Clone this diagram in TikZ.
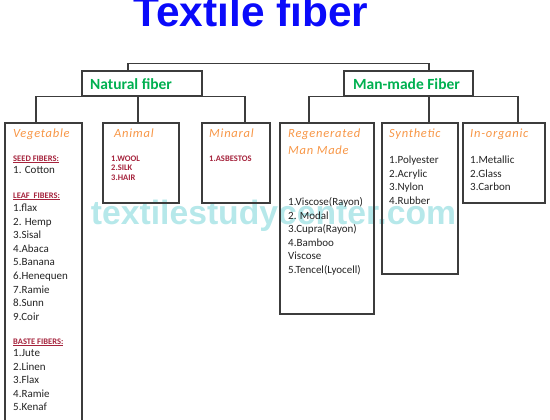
\documentclass[tikz,border=0pt]{standalone}
\usepackage{fontspec}
\setmainfont{Carlito}
\newfontfamily\arialfont{Liberation Sans}
\newfontfamily\catfont[LetterSpace=6]{Carlito}
\definecolor{titleblue}{RGB}{10,10,250}
\definecolor{natgreen}{RGB}{0,176,80}
\definecolor{catorange}{RGB}{247,150,70}
\definecolor{headred}{RGB}{165,35,60}
\definecolor{itemgray}{RGB}{35,35,35}
\definecolor{wmcyan}{RGB}{182,232,234}
\definecolor{linegray}{RGB}{60,60,60}
\tikzset{
  box/.style={draw=linegray, line width=1.4pt, inner sep=0pt},
  conn/.style={draw=linegray, line width=1.2pt},
  txt/.style={inner sep=0pt, anchor=base west},
  item/.style={txt, text=itemgray, font=\fontsize{11}{13}\selectfont},
  head/.style={txt, text=headred, font=\fontsize{8.5}{10}\selectfont\bfseries},
  cat/.style={txt, text=catorange, font=\fontsize{12.5}{15}\selectfont\catfont\itshape},
  grp/.style={txt, text=natgreen, font=\fontsize{15.5}{18}\selectfont\bfseries},
}
\begin{document}
\begin{tikzpicture}[x=1pt,y=-1pt]
\useasboundingbox (0,0) rectangle (550,420);
% watermark
\node[inner sep=0pt, anchor=base, text=wmcyan, font=\fontsize{33.7}{40}\selectfont\arialfont\bfseries] (wm) at (273.5,225) {textilestudycenter.com};
% title
\node[inner sep=0pt, anchor=base, text=titleblue, font=\fontsize{42.4}{50}\selectfont\arialfont\bfseries] (title) at (251,27) {Textile fiber};
% group boxes
\node[box, minimum width=120pt, minimum height=25pt] (nat) at (142,83.5) {};
\node[box, minimum width=129pt, minimum height=25pt] (mm) at (408.5,83.5) {};
\node[grp] (natt) at (90,90) {Natural fiber};
\node[grp] (mmt) at (353,90) {Man-made Fiber};
% category boxes
\node[box, minimum width=77pt, minimum height=304pt] (veg) at (43.5,275) {};
\node[box, minimum width=76pt, minimum height=80pt] (ani) at (141,163) {};
\node[box, minimum width=68pt, minimum height=80pt] (min) at (236,163) {};
\node[box, minimum width=94pt, minimum height=191pt] (reg) at (327,218.5) {};
\node[box, minimum width=76pt, minimum height=151pt] (syn) at (420,198.5) {};
\node[box, minimum width=82pt, minimum height=80pt] (ino) at (504,163) {};
% connectors
\coordinate (t1) at (128,63.5);
\coordinate (t2) at (429,63.5);
\draw[conn] (nat.north -| t1) -- (t1) -- (t2) -- (mm.north -| t2);
\coordinate (nb1) at (36,96.5);
\coordinate (nb2) at (138,96.5);
\coordinate (nb3) at (245,96.5);
\draw[conn] (veg.north -| nb1) -- (nb1) -- (nb3) -- (min.north -| nb3);
\draw[conn] (nb2) -- (ani.north -| nb2);
\coordinate (mb1) at (309,96.5);
\coordinate (mb2) at (429,96.5);
\coordinate (mb3) at (518,96.5);
\draw[conn] (reg.north -| mb1) -- (mb1) -- (mb3) -- (ino.north -| mb3);
\draw[conn] (mb2) -- (syn.north -| mb2);
% category titles
\node[cat] (vegt) at (13,138) {Vegetable};
\node[cat] (anit) at (114,138) {Animal};
\node[cat] (mint) at (209,138) {Minaral};
\node[cat] (regt1) at (288,138) {Regenerated};
\node[cat] (regt2) at (288,154) {Man Made};
\node[cat] (synt) at (389,138) {Synthetic};
\node[cat] (inot) at (470,138) {In-organic};
% vegetable contents
\node[head] (seedh) at (13,161) {\underline{SEED FIBERS:}};
\node[item] (cotton) at (13,173.5) {1. Cotton};
\node[head] (leafh) at (13,198) {\underline{LEAF\ \ FIBERS:}};
\foreach \t [count=\i] in {1.flax,2. Hemp,3.Sisal,4.Abaca,5.Banana,6.Henequen,7.Ramie,8.Sunn,9.Coir}
  \node[item] (leaf\i) at (13,{211.5+13.6*(\i-1)}) {\t};
\node[head] (basteh) at (13,344) {\underline{BASTE FIBERS:}};
\foreach \t [count=\i] in {1.Jute,2.Linen,3.Flax,4.Ramie,5.Kenaf}
  \node[item] (baste\i) at (13,{356.5+13.6*(\i-1)}) {\t};
% animal, mineral
\foreach \t [count=\i] in {1.WOOL,2.SILK,3.HAIR}
  \node[head] (ani\i) at (111,{161+10*(\i-1)}) {\t};
\node[head] (min1) at (209,161) {1.ASBESTOS};
% regenerated
\foreach \t [count=\i] in {1.Viscose(Rayon),2. Modal,3.Cupra(Rayon),4.Bamboo,Viscose,5.Tencel(Lyocell)}
  \node[item] (reg\i) at (288,{205.5+13.6*(\i-1)}) {\t};
% synthetic
\foreach \t [count=\i] in {1.Polyester,2.Acrylic,3.Nylon,4.Rubber}
  \node[item] (syn\i) at (389,{163.5+13.6*(\i-1)}) {\t};
% inorganic
\foreach \t [count=\i] in {1.Metallic,2.Glass,3.Carbon}
  \node[item] (ino\i) at (470,{163.5+13.6*(\i-1)}) {\t};
\end{tikzpicture}
\end{document}
